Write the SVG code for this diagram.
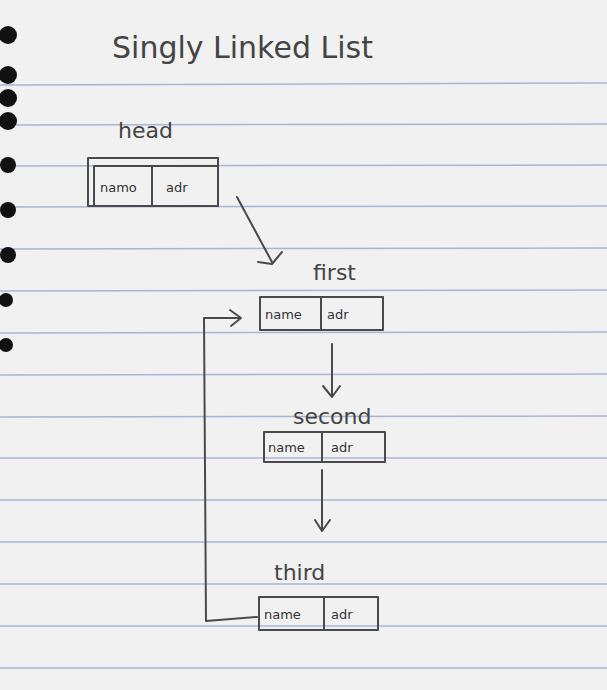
<svg xmlns="http://www.w3.org/2000/svg" width="607" height="690" viewBox="0 0 607 690">
<defs>
<style>
.rule{stroke:#a9b4d6;stroke-width:1.5}
.ink{fill:none;stroke:#4a4a4a;stroke-width:2;stroke-linecap:round;stroke-linejoin:round}
.hw{font-family:"DejaVu Sans",sans-serif;fill:#444}
.cell{font-family:"DejaVu Sans",sans-serif;fill:#333;font-size:13px}
.hole{fill:#111}
</style>
</defs>
<rect width="607" height="690" fill="#f1f1f1"/>
<g id="paper">
<line class="rule" x1="0" y1="85" x2="607" y2="83"/>
<line class="rule" x1="0" y1="125" x2="607" y2="124"/>
<line class="rule" x1="0" y1="166" x2="607" y2="165"/>
<line class="rule" x1="0" y1="207" x2="607" y2="206"/>
<line class="rule" x1="0" y1="249" x2="607" y2="248"/>
<line class="rule" x1="0" y1="291" x2="607" y2="290"/>
<line class="rule" x1="0" y1="333" x2="607" y2="332"/>
<line class="rule" x1="0" y1="375" x2="607" y2="374"/>
<line class="rule" x1="0" y1="417" x2="607" y2="416"/>
<line class="rule" x1="0" y1="458" x2="607" y2="458"/>
<line class="rule" x1="0" y1="500" x2="607" y2="500"/>
<line class="rule" x1="0" y1="542" x2="607" y2="542"/>
<line class="rule" x1="0" y1="584" x2="607" y2="584"/>
<line class="rule" x1="0" y1="626" x2="607" y2="626"/>
<line class="rule" x1="0" y1="668" x2="607" y2="668"/>
<circle class="hole" cx="8" cy="35" r="9"/>
<circle class="hole" cx="8" cy="75" r="9"/>
<circle class="hole" cx="8" cy="98" r="9"/>
<circle class="hole" cx="8" cy="121" r="9"/>
<circle class="hole" cx="8" cy="165" r="8"/>
<circle class="hole" cx="8" cy="210" r="8"/>
<circle class="hole" cx="8" cy="255" r="8"/>
<circle class="hole" cx="6" cy="300" r="7"/>
<circle class="hole" cx="6" cy="345" r="7"/>
</g>
<text class="hw" x="112" y="58" font-size="30">Singly Linked List</text>
<g id="head">
<text class="hw" x="118" y="138" font-size="22">head</text>
<rect class="ink" x="88" y="158" width="130" height="48"/>
<rect class="ink" x="94" y="166" width="124" height="40"/>
<line class="ink" x1="152" y1="166" x2="152" y2="206"/>
<text class="cell" x="100" y="192">namo</text>
<text class="cell" x="166" y="192">adr</text>
</g>
<g id="first">
<text class="hw" x="313" y="280" font-size="22">first</text>
<rect class="ink" x="260" y="297" width="123" height="33"/>
<line class="ink" x1="321" y1="297" x2="321" y2="330"/>
<text class="cell" x="265" y="319">name</text>
<text class="cell" x="327" y="319">adr</text>
</g>
<g id="second">
<text class="hw" x="293" y="424" font-size="22">second</text>
<rect class="ink" x="264" y="432" width="121" height="30"/>
<line class="ink" x1="322" y1="432" x2="322" y2="462"/>
<text class="cell" x="268" y="452">name</text>
<text class="cell" x="331" y="452">adr</text>
</g>
<g id="third">
<text class="hw" x="274" y="580" font-size="22">third</text>
<rect class="ink" x="259" y="597" width="119" height="33"/>
<line class="ink" x1="324" y1="597" x2="324" y2="630"/>
<text class="cell" x="264" y="619">name</text>
<text class="cell" x="331" y="619">adr</text>
</g>
<g id="connectors">
<path class="ink" d="M237 197 L272 262"/>
<path class="ink" d="M258 262 L272 264 L282 252"/>
<path class="ink" d="M332 344 L332 396"/>
<path class="ink" d="M323 386 L332 397 L340 386"/>
<path class="ink" d="M322 470 L322 530"/>
<path class="ink" d="M315 520 L322 531 L330 520"/>
<path class="ink" d="M257 617 L206 621 L204 318 L240 318"/>
<path class="ink" d="M230 310 L241 318 L231 326"/>
</g>
</svg>
